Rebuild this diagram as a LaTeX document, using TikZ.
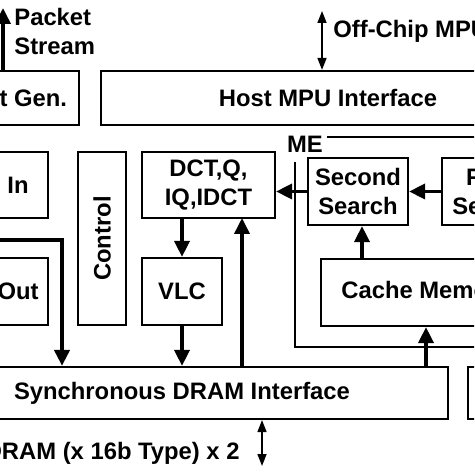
\documentclass[tikz,border=0pt]{standalone}
\usepackage{fontspec}
\setmainfont{Liberation Sans}
\usetikzlibrary{arrows.meta}
\begin{document}
\begin{tikzpicture}[x=0.5pt,y=-0.5pt,
  blk/.style={draw,line width=1.1pt,inner sep=0pt,align=center,font=\fontsize{11.9}{14.5}\selectfont\bfseries},
  lbl/.style={inner sep=0pt,align=left,font=\fontsize{11.9}{14.5}\selectfont\bfseries},
  arr/.style={line width=1.8pt,-{Triangle[length=8pt,width=7.5pt]}},
  darr/.style={line width=0.8pt,{Triangle[length=6pt,width=4.5pt]}-{Triangle[length=6pt,width=4.5pt]}},
  frm/.style={line width=1.1pt}]
\useasboundingbox (0,0) rectangle (474,474);
\clip (0,0) rectangle (474,474);
% top row
\node[blk,minimum width=80pt,minimum height=27pt] (gen) at (-1,98) {Packet Gen.};
\node[blk,minimum width=227pt,minimum height=27pt] (host) at (328,98) {Host MPU Interface};
\node[lbl,anchor=west] (pstr) at (14,32) {Packet\\Stream};
\node[lbl,anchor=west] (mputxt) at (333,31) {Off-Chip MPU};
\coordinate (ps) at (3,8);
\coordinate (mpu) at (322,11);
\draw[arr] (ps |- gen.north) -- (ps);
\draw[darr] (mpu |- host.north) -- (mpu);
% left column
\node[blk,minimum width=30pt,minimum height=33pt] (vin) at (18,185) {In};
\node[blk,minimum width=30pt,minimum height=33.5pt] (vout) at (18,291.5) {Out};
\node[blk,rotate=90,minimum width=86.5pt,minimum height=24pt] (ctrl) at (102,238.5) {Control};
\node[blk,minimum width=66.5pt,minimum height=33pt] (dct) at (208.5,185) {DCT,Q,\\IQ,IDCT};
\node[blk,minimum width=40pt,minimum height=33.5pt] (vlc) at (182,291.5) {VLC};
% motion estimation
\node[lbl] (me) at (305,144) {ME};
\draw[frm] (327,137) -- (480,137);
\draw[frm] (295,162) -- (295,347) -- (480,347);
\node[blk,minimum width=50pt,minimum height=33.5pt] (ss) at (358,191.5) {Second\\Search};
\node[blk,minimum width=50pt,minimum height=33.5pt] (fs) at (492,191.5) {First\\Search};
\node[blk,minimum width=105pt,minimum height=33.5pt] (cache) at (426,292.5) {Cache Memory};
% bottom row
\node[blk,minimum width=266pt,minimum height=26pt] (sdram) at (182,393) {Synchronous DRAM Interface};
\node[blk,minimum width=46pt,minimum height=26pt] (rbox) at (514,393) {};
\node[lbl,anchor=east] (dram) at (240,453) {SDRAM (x 16b Type) x 2};
\coordinate (ext) at (262,466);
\draw[darr] (ext |- sdram.south) -- (ext);
% data paths
\coordinate (src) at (-5,240);
\coordinate (bend) at (62,240);
\coordinate (dctin) at (242,218);
\coordinate (cin) at (362,0);
\draw[arr,line width=2.4pt] (src) -- (bend) -- (bend |- sdram.north);
\draw[arr] (vlc.north |- dct.south) -- (vlc.north);
\draw[arr] (vlc.south) -- (vlc.south |- sdram.north);
\draw[arr] (dctin |- sdram.north) -- (dctin);
\draw[arr] (ss.west) -- (dct.east |- ss.west);
\draw[arr] (fs.west) -- (ss.east);
\draw[arr] (cin |- cache.north) -- (cin |- ss.south);
\draw[arr] (cache.south |- sdram.north) -- (cache.south);
\end{tikzpicture}
\end{document}
